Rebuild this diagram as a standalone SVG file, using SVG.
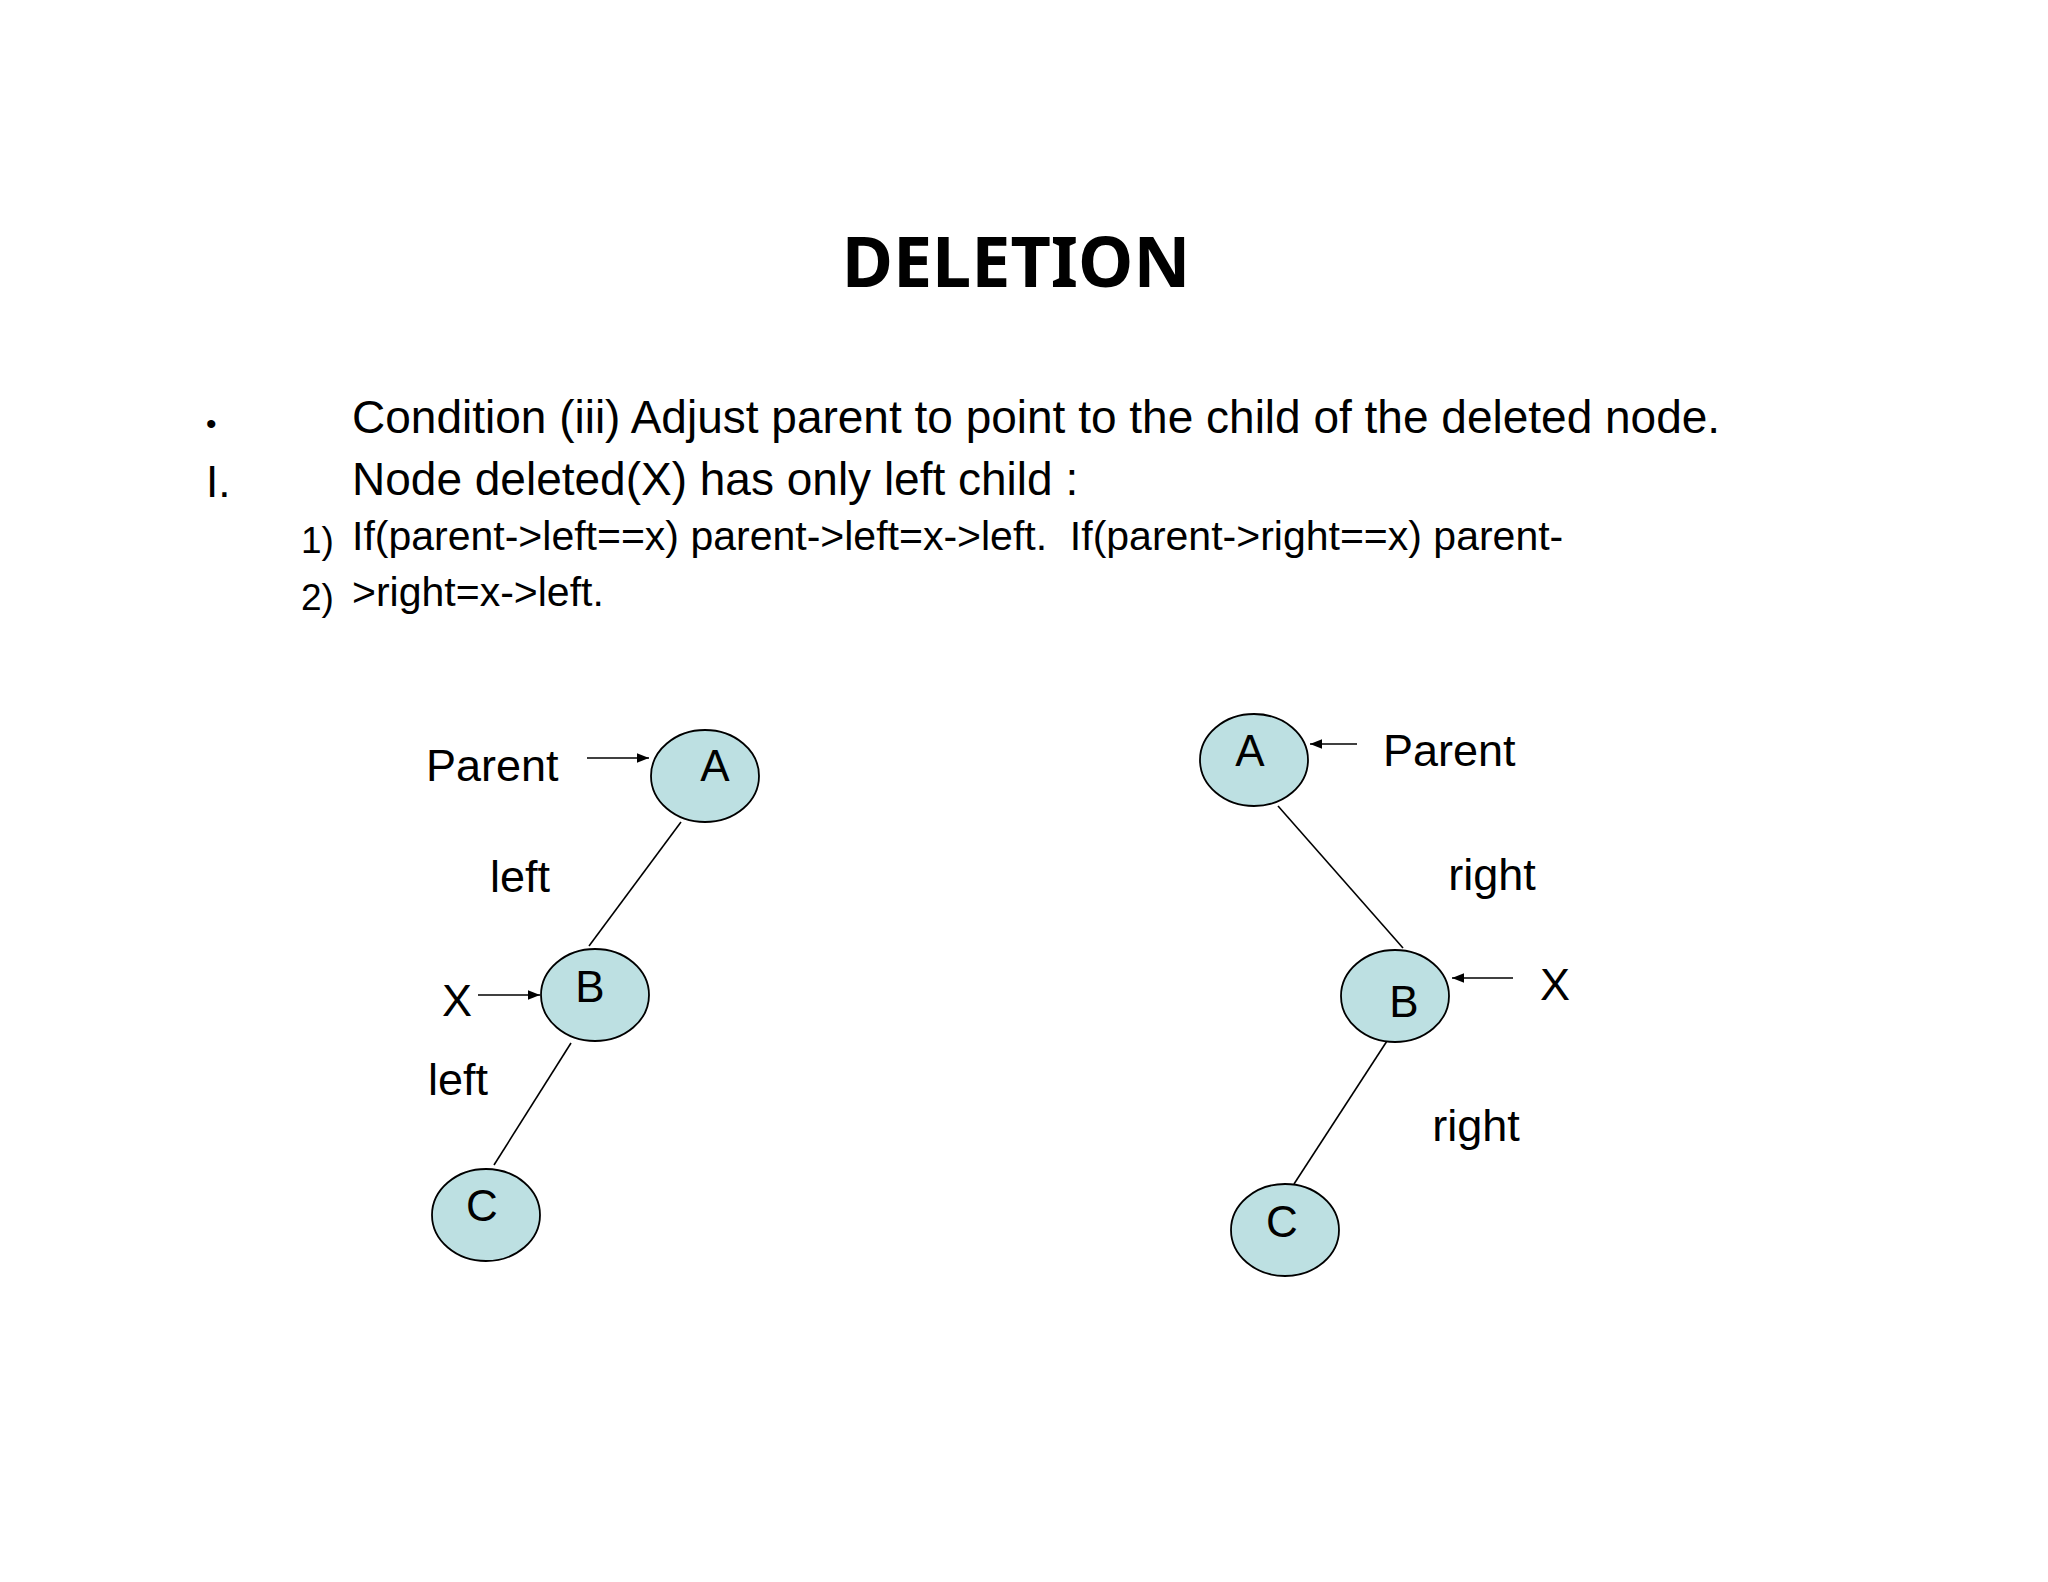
<svg xmlns="http://www.w3.org/2000/svg" width="2048" height="1582" viewBox="0 0 2048 1582">
<style>
.t{font-family:"Liberation Sans",Arial,sans-serif;fill:#000}
.n{fill:#bde0e2;stroke:#000;stroke-width:1.8}
.l{stroke:#000;stroke-width:1.6;fill:none}
</style>
<defs><marker id="ah" viewBox="0 0 10 10" refX="10" refY="5" markerWidth="12" markerHeight="12" markerUnits="userSpaceOnUse" orient="auto"><path d="M0,1 L10,5 L0,9 z" fill="#000"/></marker></defs>
<rect width="2048" height="1582" fill="#fff"/>
<text x="1016" y="287" text-anchor="middle" style="font-family:'Noto Sans','DejaVu Sans',sans-serif;font-weight:bold;font-size:70px">DELETION</text>
<text class="t" x="206" y="434" font-size="30">•</text>
<text class="t" x="352" y="433" font-size="46">Condition (iii) Adjust parent to point to the child of the deleted node.</text>
<text class="t" x="206" y="497" font-size="44">I.</text>
<text class="t" x="352" y="495" font-size="46">Node deleted(X) has only left child :</text>
<text class="t" x="301" y="553" font-size="37">1)</text>
<text class="t" x="352" y="550" font-size="41" xml:space="preserve">If(parent-&gt;left==x) parent-&gt;left=x-&gt;left.  If(parent-&gt;right==x) parent-</text>
<text class="t" x="301" y="610" font-size="37">2)</text>
<text class="t" x="352" y="606" font-size="41">&gt;right=x-&gt;left.</text>
<g id="connectors">
<line class="l" x1="681" y1="822" x2="589" y2="946"/>
<line class="l" x1="571" y1="1043" x2="494" y2="1165"/>
<line class="l" x1="587" y1="758" x2="649" y2="758" marker-end="url(#ah)"/>
<line class="l" x1="478" y1="995" x2="540" y2="995" marker-end="url(#ah)"/>
<line class="l" x1="1278" y1="806" x2="1403" y2="948"/>
<line class="l" x1="1387" y1="1041" x2="1294" y2="1184"/>
<line class="l" x1="1357" y1="744" x2="1310" y2="744" marker-end="url(#ah)"/>
<line class="l" x1="1513" y1="978" x2="1452" y2="978" marker-end="url(#ah)"/>
</g>
<g id="L_A"><ellipse class="n" cx="705" cy="776" rx="54" ry="46"/><text class="t" x="715" y="781" font-size="44" text-anchor="middle">A</text></g>
<g id="L_B"><ellipse class="n" cx="595" cy="995" rx="54" ry="46"/><text class="t" x="590" y="1002" font-size="44" text-anchor="middle">B</text></g>
<g id="L_C"><ellipse class="n" cx="486" cy="1215" rx="54" ry="46"/><text class="t" x="482" y="1221" font-size="44" text-anchor="middle">C</text></g>
<g id="R_A"><ellipse class="n" cx="1254" cy="760" rx="54" ry="46"/><text class="t" x="1250" y="766" font-size="44" text-anchor="middle">A</text></g>
<g id="R_B"><ellipse class="n" cx="1395" cy="996" rx="54" ry="46"/><text class="t" x="1404" y="1017" font-size="44" text-anchor="middle">B</text></g>
<g id="R_C"><ellipse class="n" cx="1285" cy="1230" rx="54" ry="46"/><text class="t" x="1282" y="1237" font-size="44" text-anchor="middle">C</text></g>
<g id="labels" class="t" font-size="45">
<text x="426" y="781">Parent</text>
<text x="520" y="892" text-anchor="middle">left</text>
<text x="457" y="1016" text-anchor="middle">X</text>
<text x="458" y="1095" text-anchor="middle">left</text>
<text x="1383" y="766">Parent</text>
<text x="1492" y="890" text-anchor="middle">right</text>
<text x="1555" y="1000" text-anchor="middle">X</text>
<text x="1476" y="1141" text-anchor="middle">right</text>
</g>
</svg>
